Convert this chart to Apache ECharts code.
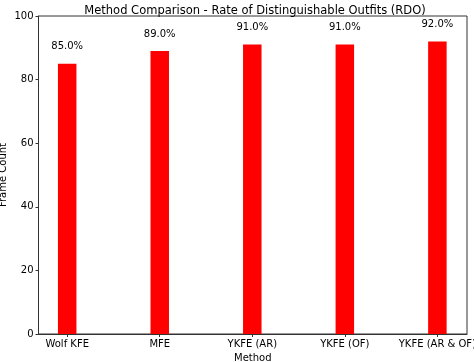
<!DOCTYPE html>
<html><head><meta charset="utf-8">
<script src="https://cdn.jsdelivr.net/npm/echarts@6/dist/echarts.min.js"></script>
<style>html,body{margin:0;padding:0;background:#fff}#c{width:474px;height:362px}</style>
</head><body><div id="c"></div>
<script>
const categories = ["Wolf KFE", "MFE", "YKFE (AR)", "YKFE (OF)", "YKFE (AR & OF)"];
const values = [85, 89, 91, 91, 92];
const yTicks = [0, 20, 40, 60, 80, 100];

const font = "DejaVu Sans";
const chart = echarts.init(document.getElementById('c'));
chart.setOption({
  animation: false,
  title: {
    text: "Method Comparison - Rate of Distinguishable Outfits (RDO)",
    left: 250, top: 0, textAlign: 'center',
    textStyle: {fontFamily: font, fontSize: 11.5, fontWeight: 'normal', color: '#000'}
  },
  grid: {left: 38.5, right: 7, top: 16, bottom: 28, show: true, borderColor: '#333', borderWidth: 1, backgroundColor: '#fff', containLabel: false, outerBoundsMode: 'none'},
  xAxis: {
    type: 'value', min: -0.31, max: 4.32,
    name: 'Method', nameLocation: 'middle', nameGap: 19, nameMoveOverlap: false,
    nameTextStyle: {fontFamily: font, fontSize: 10, color: '#000'},
    splitLine: {show: false},
    axisLine: {show: true, onZero: false, lineStyle: {color: '#333'}},
    axisTick: {show: true, customValues: [0,1,2,3,4], length: 3, lineStyle: {color: '#333'}},
    axisLabel: {customValues: [0,1,2,3,4], formatter: v => categories[Math.round(v)], fontFamily: font, fontSize: 10, color: '#000', margin: 5}
  },
  yAxis: {
    type: 'value', min: 0, max: 100, interval: 20,
    name: 'Frame Count', nameLocation: 'middle', nameGap: 30, nameMoveOverlap: false,
    nameTextStyle: {fontFamily: font, fontSize: 10, color: '#000'},
    splitLine: {show: false},
    axisLine: {show: true, onZero: false, lineStyle: {color: '#333'}},
    axisTick: {show: true, length: 3, lineStyle: {color: '#333'}},
    axisLabel: {fontFamily: font, fontSize: 10, color: '#000', margin: 5}
  },
  series: [{
    type: 'bar',
    data: values.map((v, i) => [i, v]),
    barWidth: 18.5,
    itemStyle: {color: '#ff0000'},
    label: {show: true, position: 'top', distance: 12, formatter: p => p.value[1].toFixed(1) + '%', fontFamily: font, fontSize: 10, color: '#000'}
  }]
});
</script></body></html>
